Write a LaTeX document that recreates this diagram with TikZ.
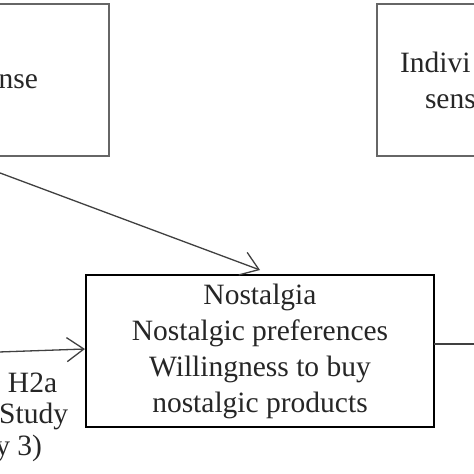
\documentclass[tikz,border=0pt]{standalone}
\usepackage{fontspec}
\setmainfont{Liberation Serif}
\usetikzlibrary{arrows.meta}
\begin{document}
\begin{tikzpicture}[x=1pt,y=-1pt,
  txt/.style={inner sep=0pt, outer sep=0pt, text=black!85, font=\fontsize{29.5}{36}\selectfont},
  graybox/.style={draw=black!60, line width=2pt, inner sep=0pt},
  mainbox/.style={draw=black, line width=1.5pt, inner sep=0pt, align=center, text=black!85, font=\fontsize{29.5}{36}\selectfont},
  arr/.style={draw=black!75, line width=1.3pt, -{Straight Barb[length=17pt,width=24pt,line width=1.3pt]}},
  conn/.style={draw=black!75, line width=1.3pt}]
\useasboundingbox (0,0) rectangle (474,474);
\fill[white] (0,0) rectangle (474,474);
\clip (0,0) rectangle (474,474);
% top boxes
\node[graybox, minimum width=300pt, minimum height=152pt, anchor=north east] (lbox) at (110,3) {};
\node[graybox, minimum width=300pt, minimum height=152pt, anchor=north west] (rbox) at (376,3) {};
\node[txt, anchor=base east] (lt) at (38,88) {nse};
\node[txt, anchor=base west] (rt1) at (400,72) {Indivi};
\node[txt, anchor=base west] (rt2) at (425,108) {sens};
% middle box
\node[mainbox, minimum width=348pt, minimum height=152pt] (mid) at (260,351)
  {Nostalgia\\Nostalgic preferences\\Willingness to buy\\nostalgic products};
% label
\node[txt, anchor=base west] (h1) at (8,392) {H2a};
\node[txt, anchor=base east] (h2) at (68,423) {Study};
\node[txt, anchor=base east] (h3) at (42,455) {y 3)};
% connectors
\coordinate (dl) at (-20,165.5);
\coordinate (dt) at (260,270);
\draw[arr] (dl) -- (dt);
\coordinate (ll) at (-10,352.3);
\coordinate (lt2) at (85,349);
\draw[arr] (ll) -- (lt2);
\coordinate (rs) at (434,344);
\coordinate (re) at (480,344);
\draw[conn] (rs) -- (re);
\end{tikzpicture}
\end{document}
